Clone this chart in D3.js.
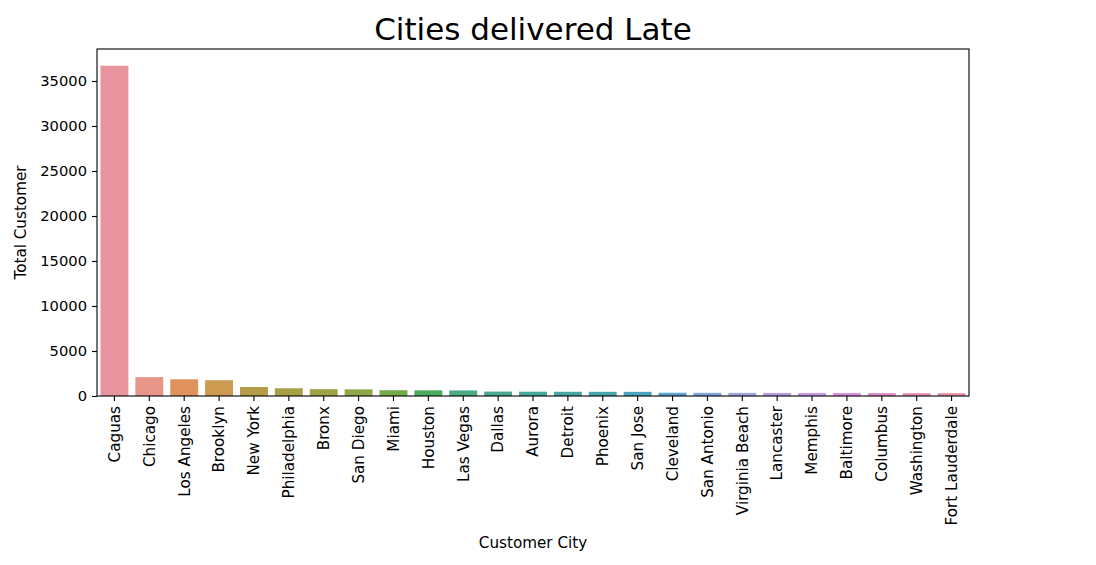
<!DOCTYPE html>
<html>
<head>
<meta charset="utf-8">
<script src="https://cdn.jsdelivr.net/npm/d3@7"></script>
<style>
  body { margin: 0; background: #fff; }
  text { font-family: "DejaVu Sans", sans-serif; fill: #000; }
</style>
</head>
<body>
<div id="chart"></div>
<script>
// data
const cities = ["Caguas", "Chicago", "Los Angeles", "Brooklyn", "New York", "Philadelphia",
  "Bronx", "San Diego", "Miami", "Houston", "Las Vegas", "Dallas", "Aurora", "Detroit",
  "Phoenix", "San Jose", "Cleveland", "San Antonio", "Virginia Beach", "Lancaster",
  "Memphis", "Baltimore", "Columbus", "Washington", "Fort Lauderdale"];
const customers = [36700, 2100, 1860, 1750, 1000, 860, 760, 740, 640, 630, 620, 490, 480,
  470, 465, 460, 360, 355, 350, 345, 340, 335, 330, 325, 320];
const yTicks = [0, 5000, 10000, 15000, 20000, 25000, 30000, 35000];
const colors = ["#e8949f", "#e8968a", "#e0925e", "#cc9a50", "#b59c49", "#a8a046",
  "#9ea446", "#8fa74a", "#72ab47", "#4aab5f", "#4aab84", "#47a78f", "#48a89a", "#48a7a3",
  "#4aa6ad", "#4aa5bd", "#5aa3d2", "#7fa6dd", "#a0a5e3", "#b59de3", "#c79ae3", "#dc90e0",
  "#e38fc9", "#e693b6", "#e893a5"];

// set the dimensions and margins of the graph
const margin = {top: 49, right: 127, bottom: 169, left: 97},
      width = 1096 - margin.left - margin.right,
      height = 565 - margin.top - margin.bottom;

const svg = d3.select("#chart")
  .append("svg")
  .attr("width", 1096)
  .attr("height", 565)
  .append("g")
  .attr("transform", `translate(${margin.left}, ${margin.top})`);

const x = d3.scaleBand()
  .domain(cities)
  .range([0, width])
  .paddingInner(0.2)
  .paddingOuter(0.1);

const y = d3.scaleLinear()
  .domain([0, 38555])
  .range([height, 0]);

// bars
svg.append("g")
  .selectAll("rect")
  .data(cities)
  .join("rect")
    .attr("x", d => x(d))
    .attr("y", (d, i) => y(customers[i]))
    .attr("width", x.bandwidth())
    .attr("height", (d, i) => height - y(customers[i]))
    .attr("fill", (d, i) => colors[i]);

// X axis
const xAxis = svg.append("g")
  .attr("transform", `translate(0, ${height})`)
  .call(d3.axisBottom(x).tickSizeOuter(0).tickSize(5).tickPadding(3.5));
xAxis.selectAll("text")
  .attr("transform", "rotate(-90)")
  .attr("text-anchor", "end")
  .attr("x", -10)
  .attr("y", 0)
  .attr("dy", "0.35em")
  .style("font-size", "15.2px");

// Y axis
const yAxis = svg.append("g")
  .call(d3.axisLeft(y).tickValues(yTicks).tickFormat(d3.format("d")).tickSizeOuter(0).tickSize(5).tickPadding(5));
yAxis.selectAll("text").style("font-size", "14.7px");

svg.selectAll(".domain").remove();
svg.selectAll(".tick line").attr("stroke", "#000").attr("stroke-width", 1.1);
svg.selectAll(".tick text").style("font-family", "DejaVu Sans, sans-serif").attr("fill", "#000");

// frame
svg.append("rect")
  .attr("width", width)
  .attr("height", height)
  .attr("fill", "none")
  .attr("stroke", "#000")
  .attr("stroke-width", 1.1);

// title and labels
svg.append("text")
  .attr("x", width / 2)
  .attr("y", -9)
  .attr("text-anchor", "middle")
  .style("font-size", "31px")
  .text("Cities delivered Late");

svg.append("text")
  .attr("x", width / 2)
  .attr("y", height + 152)
  .attr("text-anchor", "middle")
  .style("font-size", "15.2px")
  .text("Customer City");

svg.append("text")
  .attr("transform", "rotate(-90)")
  .attr("x", -(height / 2))
  .attr("y", -71)
  .attr("text-anchor", "middle")
  .style("font-size", "15.2px")
  .text("Total Customer");
</script>
</body>
</html>
